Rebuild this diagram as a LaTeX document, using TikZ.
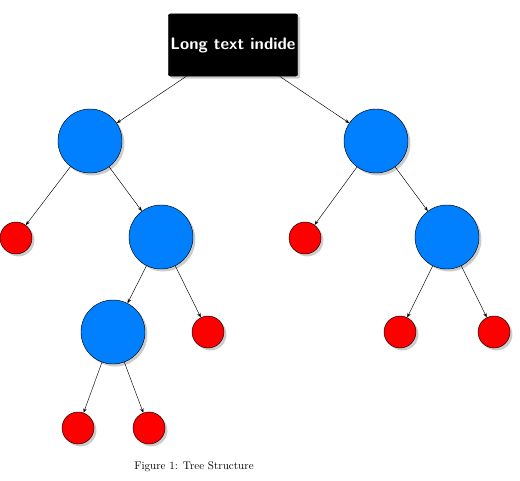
\documentclass[tikz,border=0pt]{standalone}
\usetikzlibrary{shadows,arrows.meta}
\definecolor{bluefill}{RGB}{0,128,255}
\definecolor{redfill}{RGB}{255,0,0}
\begin{document}
\begin{tikzpicture}[x=0.9pt,y=-0.9pt,
  shad/.style={drop shadow={opacity=0.4,shadow xshift=2.2pt,shadow yshift=-2.2pt}},
  rootbox/.style={draw=black,fill=black,rounded corners=2pt,minimum width=115pt,minimum height=56pt,inner sep=2pt,text=white,font=\fontsize{15}{18}\selectfont\sffamily\bfseries,shad},
  bignode/.style={circle,draw=black,fill=bluefill,inner sep=0pt,minimum size=57.6pt,shad},
  smallnode/.style={circle,draw=black,fill=redfill,inner sep=0pt,minimum size=28.8pt,shad},
  edge/.style={-{Stealth[length=4pt,width=3pt]},line width=0.4pt}]
\useasboundingbox (0,0) rectangle (520,481);
\node[rootbox] (root) at (233,45) {Long text indide};
\node[bignode] (l1) at (90,141) {};
\node[bignode] (r1) at (376,141) {};
\node[smallnode] (ll) at (16,238) {};
\node[bignode] (lr) at (161,237) {};
\node[smallnode] (rl) at (305,238) {};
\node[bignode] (rr) at (447,237) {};
\node[bignode] (lrl) at (113,332) {};
\node[smallnode] (lrr) at (208,332) {};
\node[smallnode] (rrl) at (400,332) {};
\node[smallnode] (rrr) at (494,332) {};
\node[smallnode] (a) at (78,428) {};
\node[smallnode] (b) at (149,428) {};
\draw[edge] (root) -- (l1);
\draw[edge] (root) -- (r1);
\draw[edge] (l1) -- (ll);
\draw[edge] (l1) -- (lr);
\draw[edge] (r1) -- (rl);
\draw[edge] (r1) -- (rr);
\draw[edge] (lr) -- (lrl);
\draw[edge] (lr) -- (lrr);
\draw[edge] (rr) -- (rrl);
\draw[edge] (rr) -- (rrr);
\draw[edge] (lrl) -- (a);
\draw[edge] (lrl) -- (b);
\node[font=\normalsize] (cap) at (194,467) {Figure 1: Tree Structure};
\end{tikzpicture}
\end{document}
